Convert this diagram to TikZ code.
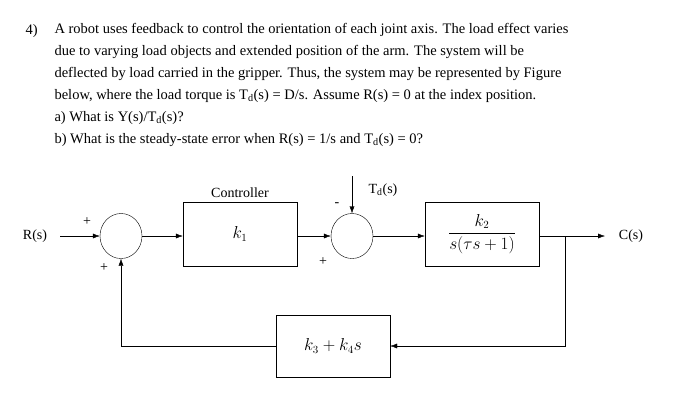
\documentclass[tikz,border=0pt]{standalone}
\usepackage{amsmath}
\usepackage{fontspec}
\setmainfont{Liberation Serif}
\usetikzlibrary{arrows.meta,shapes.geometric}
\tikzset{
  every node/.style={font=\fontsize{14}{17}\selectfont},
  blk/.style={draw, minimum width=114pt, minimum height=64pt, inner sep=0pt, font=\fontsize{16}{19}\selectfont},
  sumj/.style={draw, ellipse, minimum width=42pt, minimum height=45pt, inner sep=0pt},
  sig/.style={-{Latex[length=7pt,width=5pt]}},
  txt/.style={font=\fontsize{14.5}{22}\selectfont, anchor=west}
}
\begin{document}
\begin{tikzpicture}[x=1pt, y=-1pt]
    \useasboundingbox (0,0) rectangle (690,400);

    % question text
    \node[txt] at (22,31) {4)};
    \node[txt, align=left, anchor=north west] at (51,20)
      {A robot uses feedback to control the orientation of each joint axis. The load effect varies\\
       due to varying load objects and extended position of the arm. The system will be\\
       deflected by load carried in the gripper. Thus, the system may be represented by Figure\\
       below, where the load torque is T\textsubscript{d}(s) = D/s. Assume R(s) = 0 at the index position.\\
       a) What is Y(s)/T\textsubscript{d}(s)?\\
       b) What is the steady-state error when R(s) = 1/s and T\textsubscript{d}(s) = 0?};

    % blocks
    \node[sumj] (sum1) at (121,236) {};
    \node[blk] (ctrl) at (240,234) {$k_1$};
    \node at (240,193) {Controller};
    \node[sumj] (sum2) at (352,236) {};
    \node[blk] (plant) at (482,234) {$\dfrac{k_2}{s(\tau s+1)}$};
    \node[blk, minimum height=62pt] (fb) at (333,346) {$k_3+k_4s$};

    \node (rin) at (35,236) {R(s)};
    \node (cout) at (631,236) {C(s)};
    \node at (383,190) {T\textsubscript{d}(s)};
    \coordinate (td) at (352,176);
    \coordinate (br) at (565,236);

    % connectors
    \draw[sig] (60,236) -- (sum1.west);
    \draw[sig] (sum1.east) -- (ctrl.west |- sum1.east);
    \draw[sig] (ctrl.east |- sum2.west) -- (sum2.west);
    \draw[sig] (sum2.east) -- (plant.west |- sum2.east);
    \draw[sig] (plant.east |- br) -- (605,236);
    \draw[sig] (td) -- (sum2.north);
    \draw[sig] (br) |- (fb.east);
    \draw[sig] (fb.west) -| (sum1.south);

    % signs
    \node at (87,222) {+};
    \node at (104,268) {+};
    \node at (337,205) {-};
    \node at (323,262) {+};
\end{tikzpicture}
\end{document}
